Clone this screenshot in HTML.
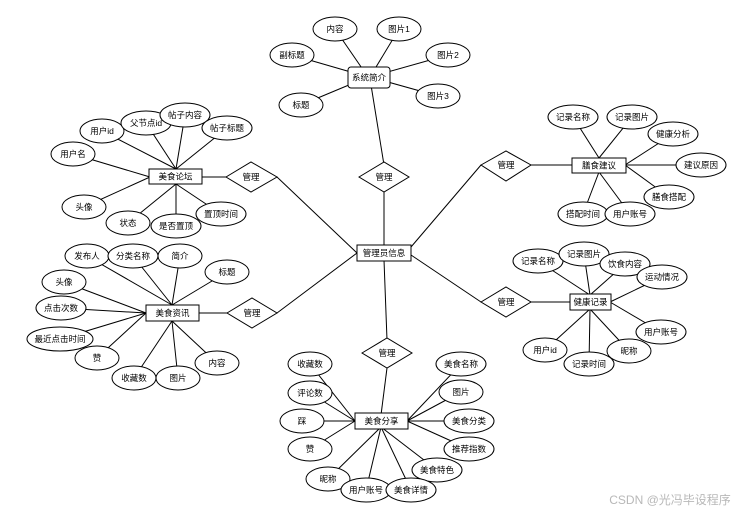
<!DOCTYPE html>
<html><head><meta charset="utf-8"><style>
html,body{margin:0;padding:0;background:#fff;}
svg{display:block;}
text{font-family:"Liberation Sans","Noto Sans CJK SC",sans-serif;font-size:8.5px;fill:#000;text-anchor:middle;dominant-baseline:central;}
line{stroke:#000;stroke-width:1;}
ellipse,rect,polygon{fill:#fff;stroke:#000;stroke-width:1;}
</style></head><body>
<svg width="745" height="513" viewBox="0 0 745 513" xmlns="http://www.w3.org/2000/svg">
<!-- connecting lines -->
<g>
<!-- 系统简介 -->
<line x1="335" y1="29" x2="368" y2="77"/><line x1="399" y1="29" x2="370" y2="77"/>
<line x1="448" y1="55" x2="370" y2="77"/><line x1="438" y1="96" x2="370" y2="77"/>
<line x1="292" y1="55" x2="368" y2="77"/><line x1="301" y1="105" x2="368" y2="77"/>
<line x1="371" y1="85" x2="384" y2="165"/>
<line x1="384" y1="190" x2="384" y2="250"/>
<!-- 论坛 -->
<line x1="102" y1="131" x2="176" y2="169"/><line x1="146" y1="123" x2="176" y2="169"/>
<line x1="185" y1="115" x2="176" y2="169"/><line x1="227" y1="128" x2="176" y2="169"/>
<line x1="73" y1="154" x2="150" y2="177"/><line x1="84" y1="207" x2="150" y2="177"/>
<line x1="128" y1="223" x2="176" y2="184"/><line x1="176" y1="226" x2="176" y2="184"/>
<line x1="221" y1="214" x2="176" y2="184"/>
<line x1="200" y1="177" x2="230" y2="177"/>
<line x1="277" y1="177" x2="357" y2="253"/>
<!-- 资讯 -->
<line x1="87" y1="256" x2="172" y2="305"/><line x1="133" y1="256" x2="172" y2="305"/>
<line x1="180" y1="256" x2="172" y2="305"/><line x1="227" y1="272" x2="172" y2="305"/>
<line x1="64" y1="282" x2="146" y2="313"/><line x1="61" y1="308" x2="146" y2="313"/>
<line x1="60" y1="339" x2="146" y2="313"/><line x1="97" y1="358" x2="146" y2="313"/>
<line x1="134" y1="378" x2="172" y2="321"/><line x1="178" y1="378" x2="172" y2="321"/>
<line x1="217" y1="363" x2="172" y2="321"/>
<line x1="198" y1="313" x2="230" y2="313"/>
<line x1="277" y1="313" x2="357" y2="253"/>
<!-- 分享 -->
<line x1="384" y1="260" x2="387" y2="340"/>
<line x1="387" y1="368" x2="381" y2="415"/>
<line x1="310" y1="364" x2="355" y2="421"/><line x1="310" y1="393" x2="355" y2="421"/>
<line x1="302" y1="421" x2="355" y2="421"/><line x1="310" y1="449" x2="355" y2="421"/>
<line x1="328" y1="479" x2="381" y2="427"/><line x1="366" y1="490" x2="381" y2="427"/>
<line x1="411" y1="490" x2="381" y2="427"/><line x1="437" y1="470" x2="381" y2="427"/>
<line x1="461" y1="364" x2="407" y2="421"/><line x1="461" y1="392" x2="407" y2="421"/>
<line x1="469" y1="421" x2="407" y2="421"/><line x1="469" y1="449" x2="407" y2="421"/>
<!-- 膳食建议 -->
<line x1="411" y1="247" x2="481" y2="165"/>
<line x1="531" y1="165" x2="574" y2="165"/>
<line x1="573" y1="117" x2="599" y2="158"/><line x1="632" y1="117" x2="599" y2="158"/>
<line x1="673" y1="134" x2="625" y2="165"/><line x1="701" y1="165" x2="625" y2="165"/>
<line x1="669" y1="197" x2="625" y2="165"/>
<line x1="583" y1="214" x2="599" y2="172"/><line x1="630" y1="214" x2="599" y2="172"/>
<!-- 健康记录 -->
<line x1="411" y1="255" x2="481" y2="302"/>
<line x1="531" y1="302" x2="572" y2="302"/>
<line x1="538" y1="261" x2="590" y2="295"/><line x1="584" y1="254" x2="590" y2="295"/>
<line x1="625" y1="264" x2="590" y2="295"/><line x1="662" y1="277" x2="610" y2="302"/>
<line x1="661" y1="332" x2="610" y2="302"/>
<line x1="629" y1="351" x2="590" y2="309"/><line x1="589" y1="364" x2="590" y2="309"/>
<line x1="545" y1="350" x2="590" y2="309"/>
</g>
<!-- entities -->
<rect x="348" y="67" width="42" height="21" rx="3"/><text x="369" y="77.5">系统简介</text>
<rect x="357" y="245" width="54" height="16"/><text x="384" y="253">管理员信息</text>
<rect x="149" y="169" width="53" height="15"/><text x="175.5" y="176.5">美食论坛</text>
<rect x="146" y="305" width="53" height="16"/><text x="172.5" y="313">美食资讯</text>
<rect x="355" y="413" width="53" height="16"/><text x="381.5" y="421">美食分享</text>
<rect x="572" y="158" width="54" height="15"/><text x="599" y="165.5">膳食建议</text>
<rect x="570" y="294" width="41" height="16"/><text x="590.5" y="302">健康记录</text>
<!-- diamonds -->
<polygon points="226,177 251,162 277,177 251,192"/><text x="251" y="177">管理</text>
<polygon points="227,313 252,298 277,313 252,328"/><text x="252" y="313">管理</text>
<polygon points="359,177 384,162 409,177 384,192"/><text x="384" y="177">管理</text>
<polygon points="362,353 387,338 412,353 387,368"/><text x="387" y="353">管理</text>
<polygon points="481,165 506,151 531,165 506,181"/><text x="506" y="165">管理</text>
<polygon points="481,302 506,287 531,302 506,317"/><text x="506" y="302">管理</text>
<!-- attributes -->
<g>
<ellipse cx="335" cy="29" rx="22" ry="12"/><text x="335" y="29">内容</text>
<ellipse cx="399" cy="29" rx="22" ry="12"/><text x="399" y="29">图片1</text>
<ellipse cx="448" cy="55" rx="22" ry="12"/><text x="448" y="55">图片2</text>
<ellipse cx="438" cy="96" rx="22" ry="12"/><text x="438" y="96">图片3</text>
<ellipse cx="292" cy="55" rx="22" ry="12"/><text x="292" y="55">副标题</text>
<ellipse cx="301" cy="105" rx="22" ry="12"/><text x="301" y="105">标题</text>

<ellipse cx="102" cy="131" rx="22" ry="12"/><text x="102" y="131">用户id</text>
<ellipse cx="146" cy="123" rx="25" ry="12"/><text x="146" y="123">父节点id</text>
<ellipse cx="185" cy="115" rx="25" ry="12"/><text x="185" y="115">帖子内容</text>
<ellipse cx="227" cy="128" rx="25" ry="12"/><text x="227" y="128">帖子标题</text>
<ellipse cx="73" cy="154" rx="22" ry="12"/><text x="73" y="154">用户名</text>
<ellipse cx="84" cy="207" rx="22" ry="12"/><text x="84" y="207">头像</text>
<ellipse cx="128" cy="223" rx="22" ry="12"/><text x="128" y="223">状态</text>
<ellipse cx="176" cy="226" rx="25" ry="12"/><text x="176" y="226">是否置顶</text>
<ellipse cx="221" cy="214" rx="25" ry="12"/><text x="221" y="214">置顶时间</text>

<ellipse cx="87" cy="256" rx="22" ry="12"/><text x="87" y="256">发布人</text>
<ellipse cx="180" cy="256" rx="22" ry="12"/><text x="180" y="256">简介</text>
<ellipse cx="133" cy="256" rx="25" ry="12"/><text x="133" y="256">分类名称</text>
<ellipse cx="227" cy="272" rx="22" ry="12"/><text x="227" y="272">标题</text>
<ellipse cx="64" cy="282" rx="22" ry="12"/><text x="64" y="282">头像</text>
<ellipse cx="61" cy="308" rx="25" ry="12"/><text x="61" y="308">点击次数</text>
<ellipse cx="97" cy="358" rx="22" ry="12"/><text x="97" y="358">赞</text>
<ellipse cx="60" cy="339" rx="33" ry="12"/><text x="60" y="339">最近点击时间</text>
<ellipse cx="134" cy="378" rx="22" ry="12"/><text x="134" y="378">收藏数</text>
<ellipse cx="178" cy="378" rx="22" ry="12"/><text x="178" y="378">图片</text>
<ellipse cx="217" cy="363" rx="22" ry="12"/><text x="217" y="363">内容</text>

<ellipse cx="310" cy="364" rx="22" ry="12"/><text x="310" y="364">收藏数</text>
<ellipse cx="310" cy="393" rx="22" ry="12"/><text x="310" y="393">评论数</text>
<ellipse cx="302" cy="421" rx="22" ry="12"/><text x="302" y="421">踩</text>
<ellipse cx="310" cy="449" rx="22" ry="12"/><text x="310" y="449">赞</text>
<ellipse cx="328" cy="479" rx="22" ry="12"/><text x="328" y="479">昵称</text>
<ellipse cx="366" cy="490" rx="25" ry="12"/><text x="366" y="490">用户账号</text>
<ellipse cx="437" cy="470" rx="25" ry="12"/><text x="437" y="470">美食特色</text>
<ellipse cx="411" cy="490" rx="25" ry="12"/><text x="411" y="490">美食详情</text>
<ellipse cx="461" cy="364" rx="25" ry="12"/><text x="461" y="364">美食名称</text>
<ellipse cx="461" cy="392" rx="22" ry="12"/><text x="461" y="392">图片</text>
<ellipse cx="469" cy="421" rx="25" ry="12"/><text x="469" y="421">美食分类</text>
<ellipse cx="469" cy="449" rx="25" ry="12"/><text x="469" y="449">推荐指数</text>

<ellipse cx="573" cy="117" rx="25" ry="12"/><text x="573" y="117">记录名称</text>
<ellipse cx="632" cy="117" rx="25" ry="12"/><text x="632" y="117">记录图片</text>
<ellipse cx="673" cy="134" rx="25" ry="12"/><text x="673" y="134">健康分析</text>
<ellipse cx="701" cy="165" rx="25" ry="12"/><text x="701" y="165">建议原因</text>
<ellipse cx="669" cy="197" rx="25" ry="12"/><text x="669" y="197">膳食搭配</text>
<ellipse cx="583" cy="214" rx="25" ry="12"/><text x="583" y="214">搭配时间</text>
<ellipse cx="630" cy="214" rx="25" ry="12"/><text x="630" y="214">用户账号</text>

<ellipse cx="538" cy="261" rx="25" ry="12"/><text x="538" y="261">记录名称</text>
<ellipse cx="584" cy="254" rx="25" ry="12"/><text x="584" y="254">记录图片</text>
<ellipse cx="625" cy="264" rx="25" ry="12"/><text x="625" y="264">饮食内容</text>
<ellipse cx="662" cy="277" rx="25" ry="12"/><text x="662" y="277">运动情况</text>
<ellipse cx="661" cy="332" rx="25" ry="12"/><text x="661" y="332">用户账号</text>
<ellipse cx="629" cy="351" rx="22" ry="12"/><text x="629" y="351">昵称</text>
<ellipse cx="545" cy="350" rx="22" ry="12"/><text x="545" y="350">用户id</text>
<ellipse cx="589" cy="364" rx="25" ry="12"/><text x="589" y="364">记录时间</text>
</g>
<text x="670" y="500" style="font-size:12px;fill:#b8b8b8;">CSDN @光冯毕设程序</text>
</svg>
</body></html>
